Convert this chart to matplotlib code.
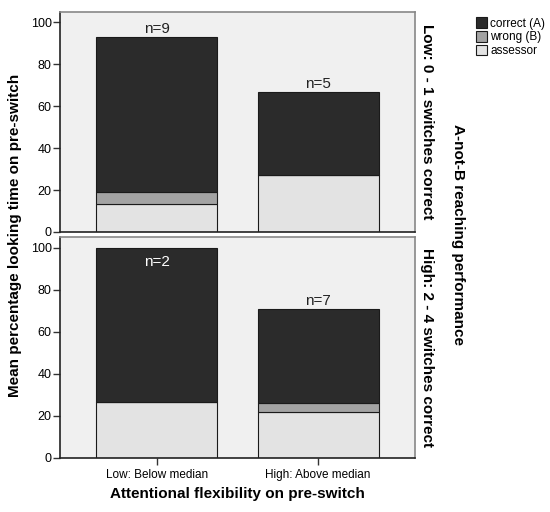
import matplotlib
matplotlib.use("Agg")
import matplotlib.pyplot as plt
from matplotlib.patches import Patch

plt.rcParams['font.family'] = ['Liberation Sans', 'DejaVu Sans']

categories = ["Low: Below median", "High: Above median"]
panels = ["Low: 0 - 1 switches correct", "High: 2 - 4 switches correct"]
series = ["correct (A)", "wrong (B)", "assessor"]

# per panel values, stacked bottom-up: assessor, wrong, correct
assessor = [[13.5, 27.0], [26.5, 22.0]]
wrong = [[5.5, 0.0], [0.0, 4.0]]
correct = [[74.0, 40.0], [73.5, 45.0]]
n_labels = [["n=9", "n=5"], ["n=2", "n=7"]]

colors = {"correct (A)": "#2b2b2b", "wrong (B)": "#a3a3a3", "assessor": "#e3e3e3"}
edge = "#1a1a1a"

fig = plt.figure(figsize=(5.5, 5.12), dpi=100)
positions = [[60/550, (512-232)/512, 355/550, 220/512],
             [60/550, (512-458)/512, 355/550, 221/512]]

x = list(range(len(categories)))
for p in range(2):
    ax = fig.add_axes(positions[p])
    ax.set_facecolor("#f0f0f0")
    a = assessor[p]; w = wrong[p]; c = correct[p]
    ax.bar(x, a, width=0.75, color=colors["assessor"], edgecolor=edge, linewidth=0.8)
    ax.bar(x, w, width=0.75, bottom=a, color=colors["wrong (B)"], edgecolor=edge, linewidth=0.8)
    bottoms = [a[i] + w[i] for i in x]
    ax.bar(x, c, width=0.75, bottom=bottoms, color=colors["correct (A)"], edgecolor=edge, linewidth=0.8)
    for i in x:
        tot = bottoms[i] + c[i]
        if tot > 97:
            ax.text(i, tot - 3.5, n_labels[p][i], ha="center", va="top", fontsize=11, color="white")
        else:
            ax.text(i, tot + 0.5, n_labels[p][i], ha="center", va="bottom", fontsize=11, color="#222222")
    ax.set_xlim(-0.6, 1.6)
    ax.set_ylim(0, 105)
    ax.set_yticks([0, 20, 40, 60, 80, 100])
    ax.tick_params(axis="y", labelsize=9, length=5, width=1, color="#333333", pad=1)
    for s in ["left", "bottom"]:
        ax.spines[s].set_color("#222222")
        ax.spines[s].set_linewidth(1.2)
    for s in ["top", "right"]:
        ax.spines[s].set_color("#888888")
        ax.spines[s].set_linewidth(1.2)
    if p == 1:
        ax.set_xticks(x)
        ax.set_xticklabels(categories, fontsize=8.5)
        ax.tick_params(axis="x", length=5, width=1, color="#333333", pad=3)
    else:
        ax.set_xticks([])
    ax.text(1.035, 0.5, panels[p], transform=ax.transAxes, rotation=-90,
            ha="center", va="center", fontsize=11, fontweight="bold")

fig.text(15/550, 1 - 235/512, "Mean percentage looking time on pre-switch", rotation=90,
         ha="center", va="center", fontsize=11, fontweight="bold")
fig.text(237/550, 1 - 494/512, "Attentional flexibility on pre-switch",
         ha="center", va="center", fontsize=11, fontweight="bold")
fig.text(458/550, 1 - 235/512, "A-not-B reaching performance", rotation=-90,
         ha="center", va="center", fontsize=11, fontweight="bold")

handles = [Patch(facecolor=colors[s], edgecolor=edge, linewidth=0.8, label=s) for s in series]
fig.legend(handles=handles, loc="upper left", bbox_to_anchor=(468/550, 1 - 9/512),
           frameon=False, fontsize=8.5, handlelength=0.9, handleheight=1.0,
           handletextpad=0.3, labelspacing=0.12, borderpad=0.2)

fig.savefig("out.png", dpi=100)
